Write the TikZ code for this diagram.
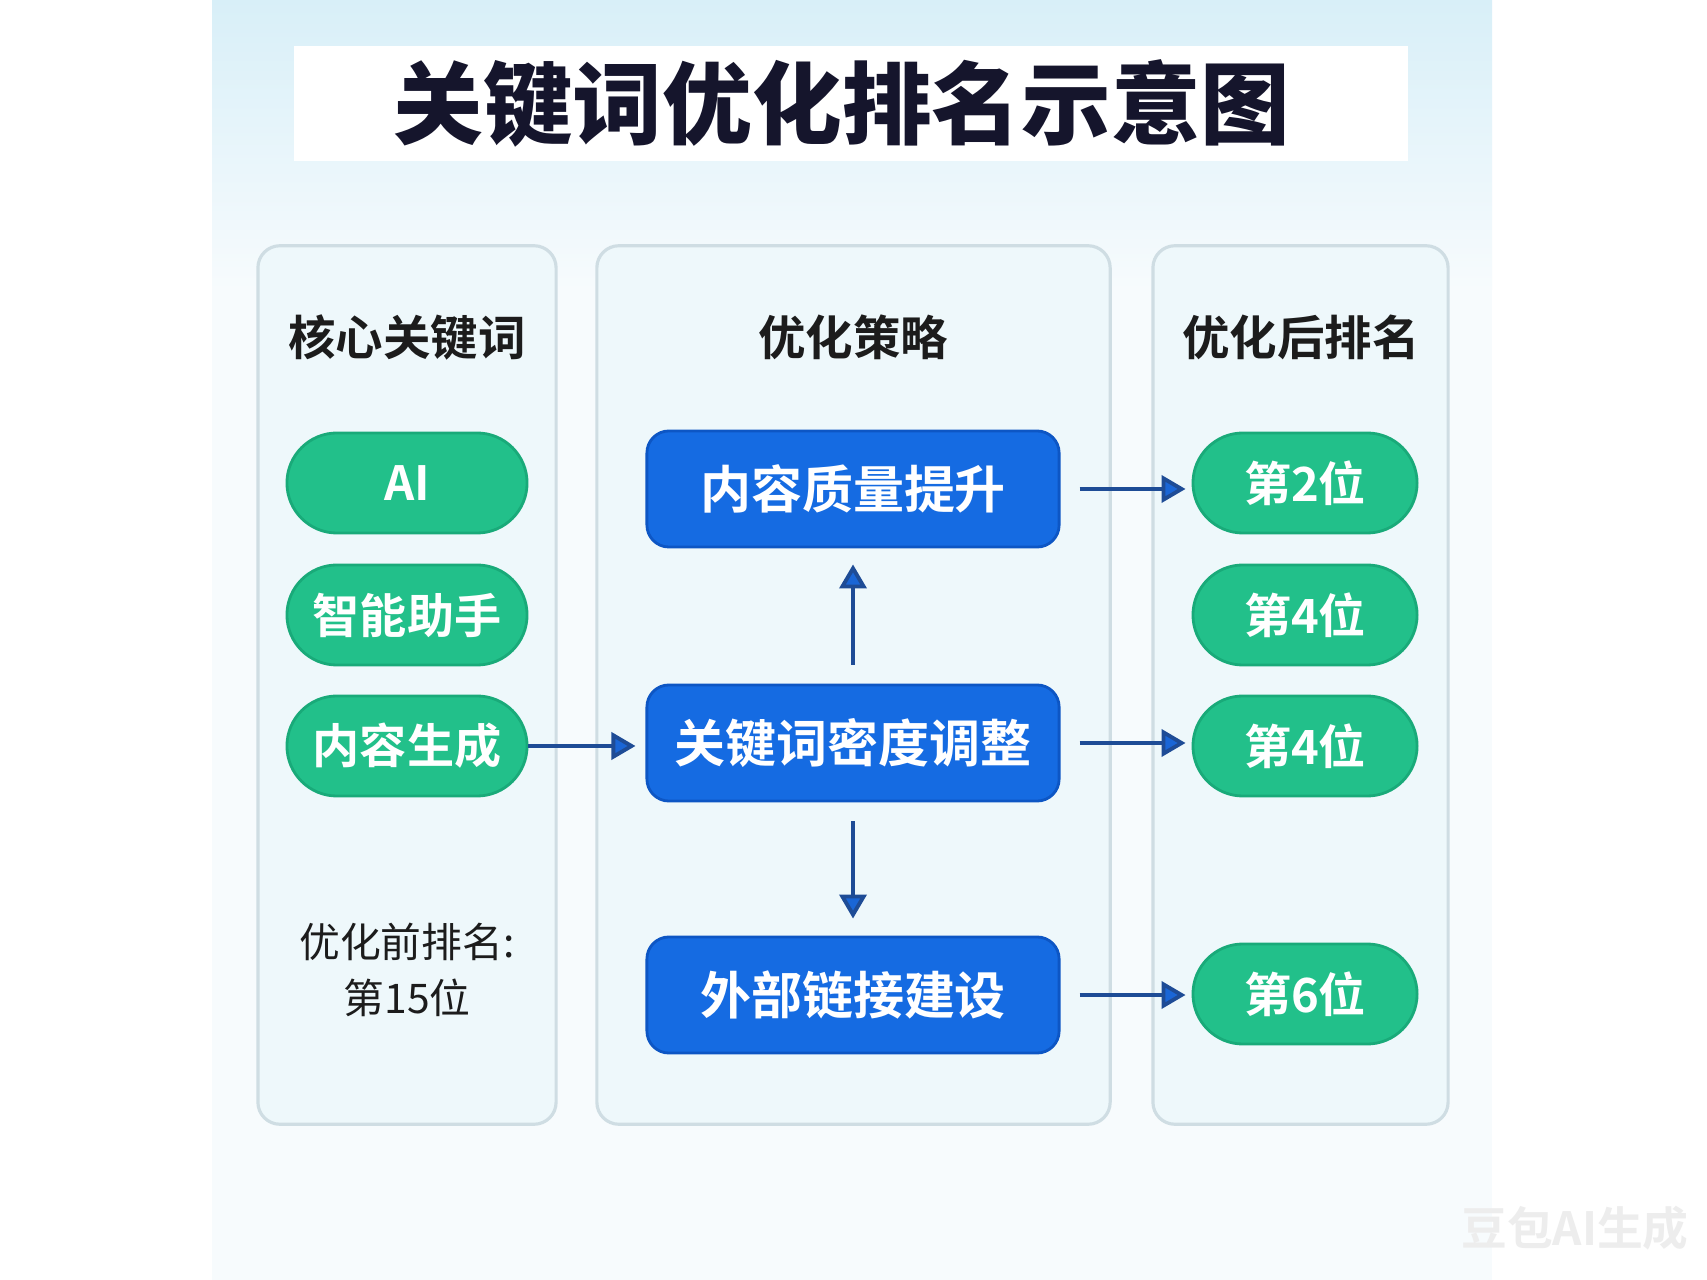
\documentclass[tikz,border=0pt]{standalone}
\usepackage{fontspec}
\newfontfamily\cjk{Noto Sans CJK SC}[BoldFont={Noto Sans CJK SC Bold}]
\newfontfamily\cjkblack{Noto Sans CJK SC Black}
\usetikzlibrary{arrows.meta}
\definecolor{bandtop}{HTML}{D8EFF8}
\definecolor{bandlow}{HTML}{F7FBFD}
\definecolor{panelfill}{HTML}{EEF8FB}
\definecolor{panelline}{HTML}{CFDDE3}
\definecolor{greenfill}{HTML}{22C08A}
\definecolor{greenline}{HTML}{19AA79}
\definecolor{bluefill}{HTML}{156BE2}
\definecolor{blueline}{HTML}{0D56C4}
\definecolor{arrowc}{HTML}{1E4C96}
\definecolor{headc}{HTML}{1A66D6}
\definecolor{titlec}{HTML}{15152C}
\definecolor{textc}{HTML}{1C1C1C}
\tikzset{
  panel/.style={draw=panelline, line width=0.9pt, fill=panelfill, rounded corners=0.22cm, inner sep=0pt},
  header/.style={font=\cjk\bfseries\fontsize{13.5}{16}\selectfont, text=textc},
  pill/.style={draw=greenline, line width=0.8pt, fill=greenfill, rounded corners=0.5cm, minimum height=1.0cm, inner sep=0pt, text=white, font=\cjk\bfseries\fontsize{13.4}{16}\selectfont},
  leftpill/.style={pill, minimum width=2.40cm},
  rightpill/.style={pill, minimum width=2.24cm},
  stratbox/.style={draw=blueline, line width=0.8pt, fill=bluefill, rounded corners=0.22cm, minimum width=4.12cm, minimum height=1.16cm, inner sep=0pt, text=white, font=\cjk\bfseries\fontsize{14.5}{17}\selectfont},
  conn/.style={draw=arrowc, line width=1.1pt, -{Triangle[length=0.24cm,width=0.27cm,fill=headc]}}
}
\begin{document}
\begin{tikzpicture}[x=0.01cm,y=-0.01cm]
\useasboundingbox (0,0) rectangle (1707,1280);
\fill[white] (0,0) rectangle (1707,1280);
\fill[bandlow] (212,0) rectangle (1492,1280);
\shade[top color=bandtop, bottom color=bandlow] (212,0) rectangle (1492,290);
% title
\fill[white] (294,46) rectangle (1408,161);
\node[font=\cjkblack\fontsize{25.5}{30}\selectfont, text=titlec] (title) at (842,103) {关键词优化排名示意图};
% panels
\node[panel, minimum width=2.98cm, minimum height=8.78cm] (pL) at (407,685) {};
\node[panel, minimum width=5.13cm, minimum height=8.78cm] (pM) at (853.5,685) {};
\node[panel, minimum width=2.95cm, minimum height=8.78cm] (pR) at (1300.5,685) {};
% headers
\node[header] (hL) at (407,337) {核心关键词};
\node[header] (hM) at (853,337) {优化策略};
\node[header] (hR) at (1301,337) {优化后排名};
% left pills
\node[leftpill] (l1) at (407,483) {AI};
\node[leftpill] (l2) at (407,615) {智能助手};
\node[leftpill] (l3) at (407,746) {内容生成};
\node[font=\cjk\fontsize{11.6}{15.9}\selectfont, text=textc, align=center] (before) at (407,970) {优化前排名:\\第15位};
% strategy boxes
\node[stratbox] (b1) at (853,489) {内容质量提升};
\node[stratbox] (b2) at (853,743) {关键词密度调整};
\node[stratbox] (b3) at (853,995) {外部链接建设};
% right pills
\node[rightpill] (r1) at (1305,483) {第2位};
\node[rightpill] (r2) at (1305,615) {第4位};
\node[rightpill] (r3) at (1305,746) {第4位};
\node[rightpill] (r4) at (1305,994) {第6位};
% connectors
\draw[conn, shorten >=0.1cm] (l3.east) -- (l3.east -| b2.west);
\draw[conn, shorten <=0.19cm, shorten >=0.06cm] (b1.east) -- (b1.east -| r1.west);
\draw[conn, shorten <=0.19cm, shorten >=0.06cm] (b2.east) -- (b2.east -| r3.west);
\draw[conn, shorten <=0.19cm, shorten >=0.06cm] (b3.east) -- (b3.east -| r4.west);
\draw[conn, shorten <=0.19cm, shorten >=0.16cm] (b2.north) -- (b1.south);
\draw[conn, shorten <=0.19cm, shorten >=0.17cm] (b2.south) -- (b3.north);
% watermark
\node[font=\cjk\bfseries\fontsize{13}{15}\selectfont, text=black!7] (wm) at (1575,1228) {豆包AI生成};
\end{tikzpicture}
\end{document}
